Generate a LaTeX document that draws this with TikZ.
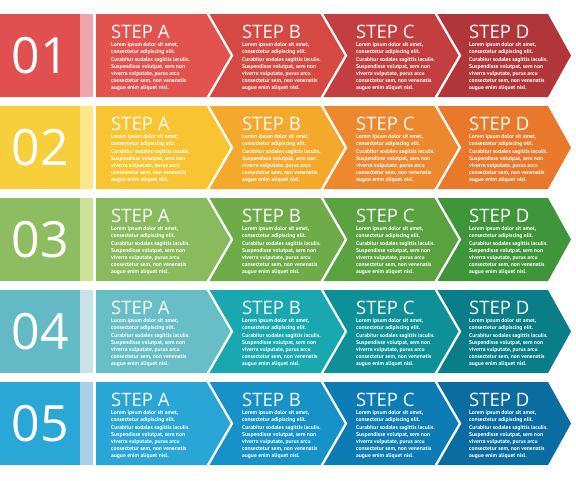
\documentclass[tikz,border=0pt]{standalone}
\usepackage{fontspec}
\setmainfont{PT Sans}
\newfontfamily\titlefont{Open Sans}
\definecolor{num0}{RGB}{225,80,80}
\definecolor{str0}{RGB}{240,165,172}
\definecolor{a0}{RGB}{226,82,78}
\definecolor{b0}{RGB}{214,72,66}
\definecolor{c0}{RGB}{195,62,62}
\definecolor{d0}{RGB}{176,54,58}
\definecolor{num1}{RGB}{247,207,58}
\definecolor{str1}{RGB}{251,231,140}
\definecolor{a1}{RGB}{248,196,50}
\definecolor{b1}{RGB}{244,168,44}
\definecolor{c1}{RGB}{238,136,46}
\definecolor{d1}{RGB}{234,120,42}
\definecolor{num2}{RGB}{141,189,96}
\definecolor{str2}{RGB}{205,224,150}
\definecolor{a2}{RGB}{138,186,94}
\definecolor{b2}{RGB}{110,172,74}
\definecolor{c2}{RGB}{90,162,64}
\definecolor{d2}{RGB}{63,150,58}
\definecolor{num3}{RGB}{99,186,196}
\definecolor{str3}{RGB}{200,228,232}
\definecolor{a3}{RGB}{104,190,198}
\definecolor{b3}{RGB}{26,168,176}
\definecolor{c3}{RGB}{14,144,152}
\definecolor{d3}{RGB}{10,126,136}
\definecolor{num4}{RGB}{41,168,216}
\definecolor{str4}{RGB}{170,208,230}
\definecolor{a4}{RGB}{41,166,214}
\definecolor{b4}{RGB}{22,146,200}
\definecolor{c4}{RGB}{14,124,180}
\definecolor{d4}{RGB}{10,108,160}
\newcommand\loremtext{Lorem ipsum dolor sit amet,\\consectetur adipiscing elit.\\Curabitur sodales sagittis iaculis.\\Suspendisse volutpat, sem non\\viverra vulputate, purus arcu\\consectetur sem, non venenatis\\augue enim aliquet nisl.}
\tikzset{
  numtext/.style={text=white,font=\titlefont\fontsize{50}{50}\selectfont,inner sep=0pt},
  steptitle/.style={text=white,font=\titlefont\fontsize{18.5}{18.5}\selectfont,inner sep=0pt,anchor=base west},
  stepbody/.style={text=white,font=\bfseries\fontsize{5.6}{7.2}\selectfont,inner sep=0pt,anchor=north west,align=left}
}
\begin{document}
\begin{tikzpicture}[x=1pt,y=-1pt]
\useasboundingbox (0,0) rectangle (576,480);
\fill[white] (0,0) rectangle (576,480);
\foreach \i/\num in {0/01,1/02,2/03,3/04,4/05} {
  \pgfmathsetmacro\t{14+92*\i}
  \pgfmathsetmacro\b{\t+83}
  \pgfmathsetmacro\m{\t+41.5}
  \pgfmathsetmacro\ty{\t+24}
  \pgfmathsetmacro\by{\t+28.6}
  \fill[num\i] (0,\t) rectangle (80,\b);
  \fill[str\i] (80,\t) rectangle (93,\b);
  \fill[a\i] (96,\t) -- (206.5,\t) -- (230.5,\m) -- (206.5,\b) -- (96,\b) -- cycle;
  \fill[b\i] (209.5,\t) -- (320.5,\t) -- (344.5,\m) -- (320.5,\b) -- (209.5,\b) -- (233.5,\m) -- cycle;
  \fill[c\i] (323.5,\t) -- (434.5,\t) -- (458.5,\m) -- (434.5,\b) -- (323.5,\b) -- (347.5,\m) -- cycle;
  \fill[d\i] (437.5,\t) -- (548,\t) -- (571,\m) -- (548,\b) -- (437.5,\b) -- (461.5,\m) -- cycle;
  \node[numtext] (num\i) at (40,\m) {\num};
  \node[steptitle] (ta\i) at (111,\ty) {STEP A};
  \node[steptitle] (tb\i) at (242,\ty) {STEP B};
  \node[steptitle] (tc\i) at (356,\ty) {STEP C};
  \node[steptitle] (td\i) at (469,\ty) {STEP D};
  \node[stepbody] (ba\i) at (111,\by) {\loremtext};
  \node[stepbody] (bb\i) at (242,\by) {\loremtext};
  \node[stepbody] (bc\i) at (356,\by) {\loremtext};
  \node[stepbody] (bd\i) at (469,\by) {\loremtext};
}
\end{tikzpicture}
\end{document}
